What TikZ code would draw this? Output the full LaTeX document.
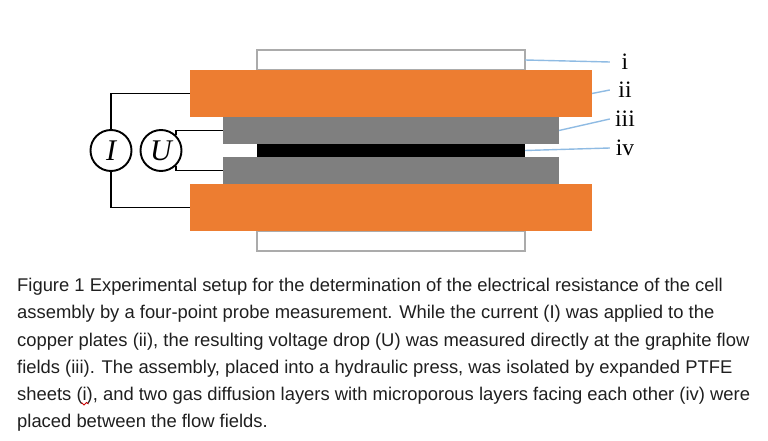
\documentclass[tikz,border=0pt]{standalone}
\usepackage{fontspec}
\usepackage{xcolor}
\setmainfont{Liberation Sans}
\newfontfamily\serifpart{Liberation Serif}
\definecolor{plateorange}{HTML}{ED7D31}
\definecolor{flowgray}{HTML}{7F7F7F}
\definecolor{sheetgray}{HTML}{ABABAB}
\definecolor{leaderblue}{HTML}{8FBBE3}
\definecolor{captiontext}{HTML}{1F1F1F}
\tikzset{
  block/.style={inner sep=0pt,outer sep=0pt,minimum height=#1},
  sheet/.style={block=20pt,minimum width=268pt,draw=sheetgray,line width=1.2pt,fill=white},
  plate/.style={block=47pt,minimum width=402pt,fill=plateorange},
  flow/.style={block=27pt,minimum width=336pt,fill=flowgray},
  gdl/.style={block=13pt,minimum width=268pt,fill=black},
  meter/.style={circle,draw=black,line width=1.9pt,fill=white,minimum size=41pt,inner sep=0pt,font=\serifpart\fontsize{30}{30}\selectfont\itshape},
  wire/.style={draw=black,line width=1.9pt},
  leader/.style={draw=leaderblue,line width=1.4pt},
  partlabel/.style={inner sep=0pt,minimum width=30pt,font=\serifpart\fontsize{23.5}{23.5}\selectfont},
  capline/.style={anchor=base west,inner sep=0pt,text=captiontext,font=\fontsize{18.4}{20}\selectfont}
}
\begin{document}
\begin{tikzpicture}[x=1pt,y=-1pt]
\useasboundingbox (0,0) rectangle (768,441);
\node[sheet] (SheetTop) at (391,60){};
\node[sheet] (SheetBot) at (391,241){};
\node[plate] (PlateTop) at (391,93.5){};
\node[plate] (PlateBot) at (391,207.5){};
\node[flow] (FlowTop) at (391,130.5){};
\node[flow] (FlowBot) at (391,170.5){};
\node[gdl] (Gdl) at (391,150.5){};
\node[meter] (I) at (111,150.5){I};
\node[meter] (U) at (161,150.5){U};
\draw[wire] (I) |- (PlateTop.west);
\draw[wire] (I) |- (PlateBot.west);
\draw[wire] (U.45) |- (FlowTop.west);
\draw[wire] (U.-45) |- (FlowBot.west);
\node[partlabel] (Li) at (625,62){i};
\node[partlabel] (Lii) at (625,90){ii};
\node[partlabel] (Liii) at (625,119){iii};
\node[partlabel] (Liv) at (625,148){iv};
\draw[leader] (SheetTop.east) -- (Li.west);
\draw[leader] (PlateTop.east) -- (Lii.west);
\draw[leader] (FlowTop.east) -- (Liii.west);
\draw[leader] (Gdl.east) -- (Liv.west);
\node[capline] (Cap1) at (17,291.5){Figure 1 Experimental setup for the determination of the electrical resistance of the cell};
\node[capline] (Cap2) at (17,318.5){assembly by a four-point probe measurement. While the current (I) was applied to the};
\node[capline] (Cap3) at (17,346){copper plates (ii), the resulting voltage drop (U) was measured directly at the graphite flow};
\node[capline] (Cap4) at (17,373){fields (iii). The assembly, placed into a hydraulic press, was isolated by expanded PTFE};
\node[capline] (Cap5) at (17,400){sheets (i), and two gas diffusion layers with microporous layers facing each other (iv) were};
\node[capline] (Cap6) at (17,427){placed between the flow fields.};
\draw[red!80!black,line width=.8pt] (81.5,402.5) -- (84,405) -- (86.5,402.5) -- (88.5,404);
\end{tikzpicture}
\end{document}
